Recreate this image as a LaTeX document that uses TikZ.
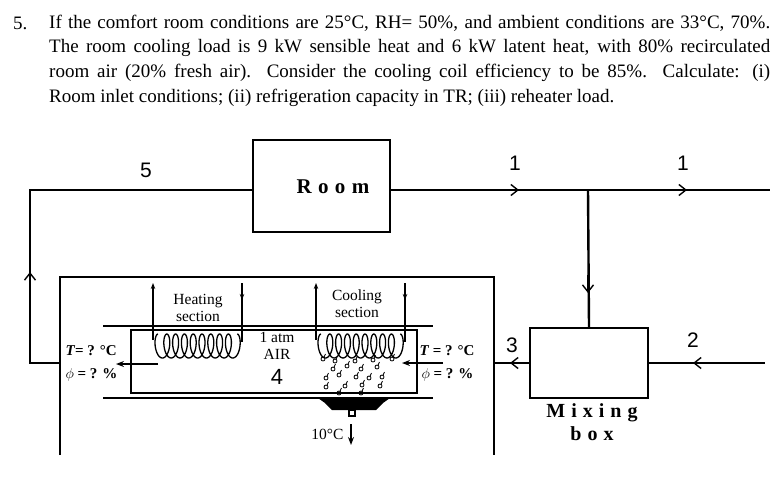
\documentclass[tikz,border=0pt]{standalone}
\usepackage{fontspec}
\setmainfont{Liberation Serif}
\newfontfamily\sansf{Liberation Sans}
\newfontfamily\spacedf{Liberation Serif}[LetterSpace=30]
\usetikzlibrary{arrows.meta}
\begin{document}
\begin{tikzpicture}[x=1pt,y=-1pt,
  pipe/.style={line width=2.4pt},
  thin/.style={line width=1.3pt},
  mid/.style={-{Straight Barb[length=7pt,width=11pt,line width=1.4pt]}},
  num/.style={font=\sansf\fontsize{21}{21}\selectfont},
  lab/.style={font=\fontsize{15.5}{17}\selectfont,align=center},
  side/.style={anchor=west,font=\bfseries\fontsize{15}{16}\selectfont},
  big/.style={font=\spacedf\bfseries\fontsize{21}{21}\selectfont,align=center},
  para/.style={anchor=west,inner sep=0pt,font=\fontsize{19}{20}\selectfont}]
\useasboundingbox (0,0) rectangle (783,488);
% problem text
\node[para] (p0) at (13,23) {5.};
\node[para] (p1) at (49,23) {\makebox[721pt][s]{If the comfort room conditions are 25°C, RH= 50\%, and ambient conditions are 33°C, 70\%.}};
\node[para] (p2) at (49,48) {\makebox[721pt][s]{The room cooling load is 9 kW sensible heat and 6 kW latent heat, with 80\% recirculated}};
\node[para] (p3) at (49,73) {\makebox[721pt][s]{room air (20\% fresh air). Consider the cooling coil efficiency to be 85\%. Calculate: (i)}};
\node[para] (p4) at (49,98) {Room inlet conditions; (ii) refrigeration capacity in TR; (iii) reheater load.};
% room
\node[draw,pipe,minimum width=137pt,minimum height=92pt,inner sep=0pt] (room) at (321.5,186) {};
\node[big] (roomt) at (333,187) {Room};
% mixing box
\node[draw,pipe,minimum width=118pt,minimum height=70pt,inner sep=0pt] (mix) at (589,363) {};
\node[big,font=\spacedf\bfseries\fontsize{20}{23}\selectfont] (mixt) at (592,422) {Mixing\\box};
% big box
\draw[pipe] (60,455) -- (60,277) coordinate (bl) -- (494,277) -- (494,455);
\coordinate (bL) at (60,363); \coordinate (bR) at (494,363);
% top line
\coordinate (tl) at (30,190); \coordinate (tr) at (770,190);
\coordinate (jn) at (588,190);
\draw[pipe] (room.east |- tl) -- (tr);
\draw[pipe] (room.west |- tl) -- (tl) -- (30,363) -- (bL);
\draw[thin,mid] (30,300) -- (30,272);
\draw[thin,mid] (500,190) -- (519,190);
\draw[thin,mid] (670,190) -- (687,190);
\draw[pipe] (jn) -- (mix.north);
\draw[thin,mid] (588,275) -- (588,293);
\coordinate (in2) at (765,363);
\draw[pipe] (mix.east) -- (in2);
\draw[thin,mid] (715,363) -- (693,363);
\draw[pipe] (mix.west) -- (bR);
\draw[thin,mid] (526,363) -- (510,363);
\node[num] (n5) at (146,170) {5};
\node[num] (n1a) at (515,163) {1};
\node[num] (n1b) at (683,163) {1};
\node[num] (n2) at (693,340) {2};
\node[num] (n3) at (512,345) {3};
% duct
\draw[thin] (103,326) -- (433,326);
\draw[thin] (103,398) -- (433,398);
\draw[thin] (131,330) rectangle (417,393);
% coils
\foreach \xs in {153,316}{
  \draw[thin] (\xs,285) -- (\xs,340);
  \draw[thin,domain=0:3240,samples=260,smooth,variable=\t] plot ({\xs+5+\t/360*8.8-5*sin(\t)},{346-12*cos(\t)});
  \draw[thin] (\xs+89,285) -- (\xs+89,342);
  \draw[thin,-{Stealth[length=6pt]}] (\xs,300) -- (\xs,283);
  \draw[thin,-{Stealth[length=6pt]}] (\xs+89,283) -- (\xs+89,300);
}
\node[lab] (heat) at (198,308) {Heating\\section};
\node[lab] (cool) at (357,304) {Cooling\\section};
\node[lab] (atm) at (277,346) {1 atm\\AIR};
\node[num,font=\sansf\fontsize{22}{22}\selectfont] (n4) at (277,377) {4};
% side labels
\node[side] (tl1) at (62,351) {\textit{T}= ? °C};
\node[side] (pl1) at (62,375) {$\phi$ = ? \%};
\node[side] (tl2) at (416,351) {\textit{T} = ? °C};
\node[side] (pl2) at (418,375) {$\phi$ = ? \%};
\coordinate (a1s) at (158,364); \coordinate (a1e) at (116,364);
\draw[thin,-{Stealth[length=8pt]}] (a1s) -- (a1e);
\coordinate (a2s) at (443,363); \coordinate (a2e) at (402,363);
\draw[thin,-{Stealth[length=8pt]}] (a2s) -- (a2e);
% droplets
\foreach \dx/\dy in {323/359,335/361,355/361,373/360,392/359,
  333/369,347/366,361/369,377/367,326/378,339/375,356/377,369/378,382/377,
  326/387,345/386,362/385,380/386,339/393,361/393}{
  \draw[line width=0.8pt] (\dx,\dy) circle (2pt);
  \draw[line width=0.8pt] (\dx+1,\dy-1.8) -- (\dx+2.5,\dy-5);
}
% drain pan
\fill (318,398) -- (390,398) -- (383,403) -- (376,410) -- (332,410) -- (325,403) -- cycle;
\draw[thin,fill=white] (349,410) rectangle (355,416);
\node[lab,anchor=east] (t10) at (347,434) {10°C};
\draw[thin,-{Stealth[length=8pt]}] (351,424) -- (351,445);
\end{tikzpicture}
\end{document}
